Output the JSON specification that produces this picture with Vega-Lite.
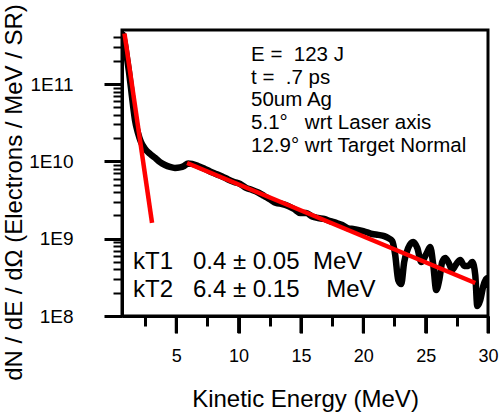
{
  "$schema": "https://vega.github.io/schema/vega-lite/v6.json",
  "width": 366,
  "height": 286,
  "autosize": {"type": "none"},
  "padding": {"left": 122, "top": 30, "right": 12, "bottom": 96},
  "background": "white",
  "config": {
    "font": "Liberation Sans",
    "view": {"stroke": "black", "strokeWidth": 3},
    "axis": {
      "grid": false,
      "domainColor": "black",
      "domainWidth": 3,
      "tickColor": "black",
      "labelColor": "black",
      "titleColor": "black",
      "titleFontWeight": "normal",
      "labelOverlap": false,
      "labelFlush": false,
      "labelBound": false
    }
  },
  "datasets": {
    "spectrum": [
      {"E": 0.73, "N": 4.32e11}, {"E": 0.89, "N": 3.21e11}, {"E": 1.05, "N": 2.18e11},
      {"E": 1.21, "N": 1.44e11}, {"E": 1.37, "N": 8.9e10}, {"E": 1.53, "N": 5.37e10},
      {"E": 1.69, "N": 3.44e10}, {"E": 1.93, "N": 2.33e10}, {"E": 2.17, "N": 1.78e10},
      {"E": 2.5, "N": 1.45e10}, {"E": 2.9, "N": 1.25e10}, {"E": 3.3, "N": 1.11e10},
      {"E": 3.7, "N": 9.8e9}, {"E": 4.1, "N": 8.98e9}, {"E": 4.5, "N": 8.47e9},
      {"E": 4.9, "N": 8.23e9}, {"E": 5.3, "N": 8.35e9}, {"E": 5.63, "N": 8.71e9},
      {"E": 5.95, "N": 9.4e9}, {"E": 6.27, "N": 9.26e9}, {"E": 6.75, "N": 8.72e9},
      {"E": 7.23, "N": 8.09e9}, {"E": 7.71, "N": 7.4e9}, {"E": 8.19, "N": 6.87e9},
      {"E": 8.68, "N": 6.38e9}, {"E": 9.16, "N": 5.83e9}, {"E": 9.64, "N": 5.42e9},
      {"E": 10.12, "N": 5.1e9}, {"E": 10.6, "N": 4.53e9}, {"E": 11.08, "N": 4.27e9},
      {"E": 11.57, "N": 3.96e9}, {"E": 12.05, "N": 3.57e9}, {"E": 12.53, "N": 3.21e9},
      {"E": 13.01, "N": 2.9e9}, {"E": 13.49, "N": 2.81e9}, {"E": 13.97, "N": 2.65e9},
      {"E": 14.45, "N": 2.42e9}, {"E": 14.94, "N": 2.15e9}, {"E": 15.42, "N": 2.15e9},
      {"E": 15.9, "N": 1.94e9}, {"E": 16.38, "N": 1.85e9}, {"E": 16.86, "N": 1.8e9},
      {"E": 17.34, "N": 1.69e9}, {"E": 17.83, "N": 1.6e9}, {"E": 18.31, "N": 1.5e9},
      {"E": 18.79, "N": 1.36e9}, {"E": 19.27, "N": 1.33e9}, {"E": 19.75, "N": 1.28e9},
      {"E": 20.23, "N": 1.22e9}, {"E": 20.71, "N": 1.15e9}, {"E": 21.2, "N": 1.12e9},
      {"E": 21.68, "N": 1.08e9}, {"E": 22.0, "N": 1.02e9}, {"E": 22.32, "N": 9.34e8},
      {"E": 22.56, "N": 6.15e8}, {"E": 22.8, "N": 2.92e8}, {"E": 23.04, "N": 2.59e8},
      {"E": 23.28, "N": 5.0e8}, {"E": 23.6, "N": 7.58e8}, {"E": 24.0, "N": 9.06e8},
      {"E": 24.33, "N": 7.58e8}, {"E": 24.65, "N": 5.0e8}, {"E": 24.89, "N": 5.63e8},
      {"E": 25.13, "N": 6.73e8}, {"E": 25.37, "N": 7.81e8}, {"E": 25.61, "N": 4.57e8},
      {"E": 25.85, "N": 2.17e8}, {"E": 26.09, "N": 2.92e8}, {"E": 26.33, "N": 5.0e8},
      {"E": 26.57, "N": 5.63e8}, {"E": 26.89, "N": 4.71e8}, {"E": 27.13, "N": 3.94e8},
      {"E": 27.46, "N": 4.71e8}, {"E": 27.78, "N": 5.3e8}, {"E": 28.1, "N": 4.44e8},
      {"E": 28.42, "N": 4.44e8}, {"E": 28.74, "N": 5.0e8}, {"E": 28.98, "N": 3.39e8},
      {"E": 29.14, "N": 1.35e8}, {"E": 29.38, "N": 1.61e8}, {"E": 29.62, "N": 2.44e8},
      {"E": 29.94, "N": 3.1e8}, {"E": 30.0, "N": 2.52e8}
    ],
    "fits": [
      {"fit": "kT1", "E": 0.85, "N": 4.5e11},
      {"fit": "kT1", "E": 3.06, "N": 1.6e9},
      {"fit": "kT2", "E": 5.87, "N": 9.53e9},
      {"fit": "kT2", "E": 28.98, "N": 2.67e8}
    ],
    "shot": [
      {"E": 11.0, "N": 2.38e11, "text": "E =\u00a0 123 J"},
      {"E": 11.0, "N": 1.2e11, "text": "t =\u00a0 .7 ps"},
      {"E": 11.0, "N": 6.22e10, "text": "50um Ag"},
      {"E": 11.0, "N": 3.14e10, "text": "5.1°\u00a0\u00a0 wrt Laser axis"},
      {"E": 11.0, "N": 1.58e10, "text": "12.9° wrt Target Normal"}
    ],
    "temps": [
      {"E": 1.53, "N": 5.0e8, "text": "kT1\u00a0\u00a0 0.4 ± 0.05\u00a0 MeV"},
      {"E": 1.53, "N": 2.17e8, "text": "kT2\u00a0\u00a0 6.4 ± 0.15\u00a0\u00a0\u00a0 MeV"}
    ],
    "majorTicks": [
      {"E": 5}, {"E": 10}, {"E": 15}, {"E": 20}, {"E": 25}, {"E": 30}
    ]
  },
  "resolve": {"axis": {"x": "independent"}},
  "layer": [
    {
      "data": {"name": "spectrum"},
      "mark": {"type": "line", "color": "black", "strokeWidth": 6.5, "interpolate": "monotone", "strokeJoin": "round", "strokeCap": "round", "clip": true},
      "encoding": {
        "x": {
          "field": "E",
          "type": "quantitative",
          "scale": {"domain": [0.65, 30], "nice": false, "zero": false},
          "axis": {
            "orient": "bottom",
            "title": "Kinetic Energy (MeV)",
            "values": [5, 10, 15, 20, 25, 30],
            "format": "d",
            "tickSize": 17,
            "tickWidth": 3,
            "labelFontSize": 18,
            "labelPadding": 14,
            "titleFontSize": 24,
            "titleX": 183,
            "titleY": 83,
            "titleBaseline": "middle"
          }
        },
        "y": {
          "field": "N",
          "type": "quantitative",
          "scale": {"type": "log", "domain": [1e8, 5e11], "nice": false},
          "axis": {
            "title": "dN / dE / dΩ (Electrons / MeV / SR)",
            "values": [1e8, 2e8, 3e8, 4e8, 5e8, 6e8, 7e8, 8e8, 9e8,
                       1e9, 2e9, 3e9, 4e9, 5e9, 6e9, 7e9, 8e9, 9e9,
                       1e10, 2e10, 3e10, 4e10, 5e10, 6e10, 7e10, 8e10, 9e10,
                       1e11, 2e11, 3e11, 4e11],
            "labelExpr": "abs(log(datum.value) / LN10 - round(log(datum.value) / LN10)) < 0.001 ? '1E' + round(log(datum.value) / LN10) : ''",
            "tickSize": {"condition": {"test": "abs(log(datum.value) / LN10 - round(log(datum.value) / LN10)) < 0.001", "value": 18}, "value": 9},
            "tickWidth": {"condition": {"test": "abs(log(datum.value) / LN10 - round(log(datum.value) / LN10)) < 0.001", "value": 3}, "value": 2},
            "labelFontSize": 19,
            "labelPadding": 31,
            "titleFontSize": 24,
            "titleX": -108,
            "titleY": 162,
            "titleAngle": -90,
            "titleAlign": "center",
            "titleBaseline": "middle"
          }
        }
      }
    },
    {
      "data": {"name": "fits"},
      "mark": {"type": "line", "color": "#ff0000", "strokeWidth": 4.5, "clip": true},
      "encoding": {
        "x": {"field": "E", "type": "quantitative", "axis": null},
        "y": {"field": "N", "type": "quantitative"},
        "detail": {"field": "fit"}
      }
    },
    {
      "data": {"name": "shot"},
      "mark": {"type": "text", "align": "left", "baseline": "middle", "fontSize": 20.5, "color": "black"},
      "encoding": {
        "x": {
          "field": "E",
          "type": "quantitative",
          "axis": {
            "orient": "bottom",
            "title": null,
            "values": [2.5, 7.5, 12.5, 17.5, 22.5, 27.5],
            "labels": false,
            "domain": false,
            "tickSize": 10,
            "tickWidth": 3
          }
        },
        "y": {"field": "N", "type": "quantitative"},
        "text": {"field": "text"}
      }
    },
    {
      "data": {"name": "temps"},
      "mark": {"type": "text", "align": "left", "baseline": "middle", "fontSize": 24, "color": "black"},
      "encoding": {
        "x": {"field": "E", "type": "quantitative", "axis": null},
        "y": {"field": "N", "type": "quantitative"},
        "text": {"field": "text"}
      }
    },
    {
      "data": {"name": "majorTicks"},
      "mark": {"type": "rule", "color": "black", "strokeWidth": 3, "clip": false},
      "encoding": {
        "x": {"field": "E", "type": "quantitative", "axis": null},
        "y": {"datum": 1e8, "type": "quantitative"},
        "y2": {"datum": 6.0e7}
      }
    }
  ]
}
